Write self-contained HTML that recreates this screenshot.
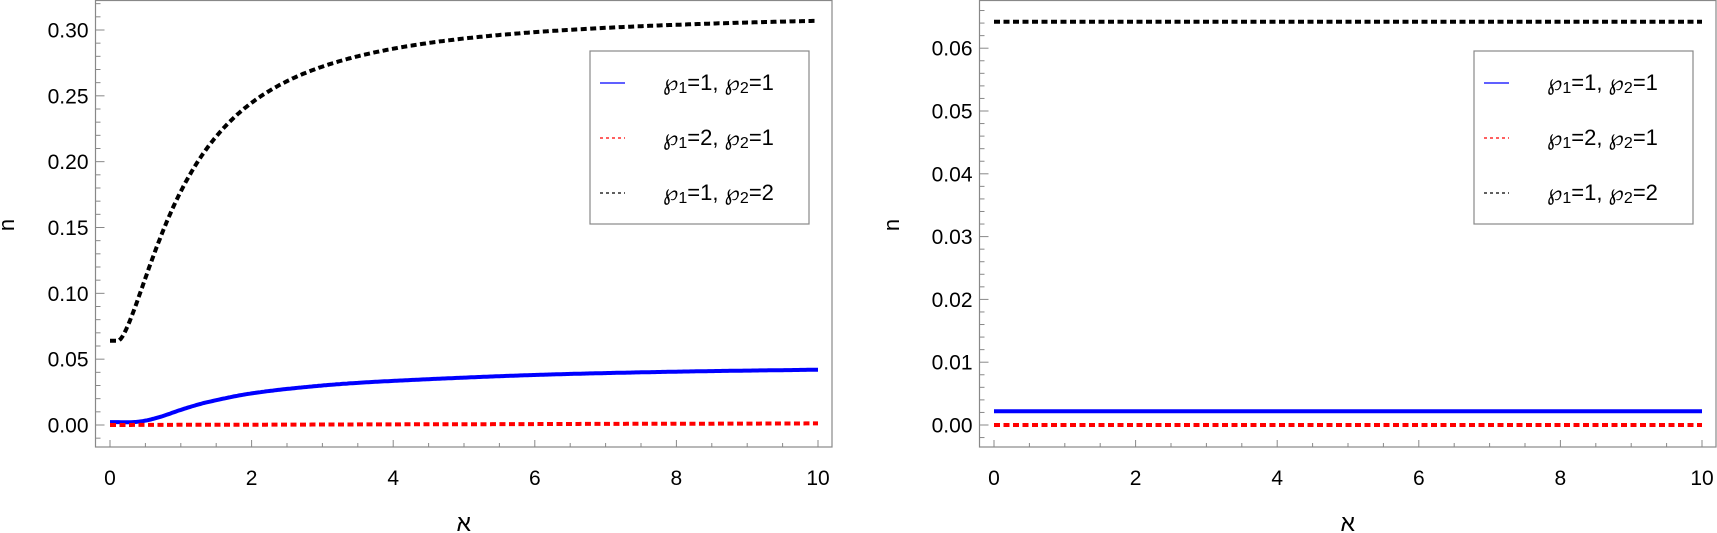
<!DOCTYPE html>
<html><head><meta charset="utf-8"><style>
html,body{margin:0;padding:0;background:#fff;}
svg{display:block;font-family:"Liberation Sans",sans-serif;}
</style></head><body>
<svg id="s" width="1717" height="533" viewBox="0 0 1717 533" xmlns="http://www.w3.org/2000/svg"></svg>
<script>
const S=document.getElementById('s');
let h='';
function interp(pts,x){for(let i=0;i<pts.length-1;i++){const a=pts[i],b=pts[i+1];if(x<=b[0]){
 const m0=i>0?(b[1]-pts[i-1][1])/(b[0]-pts[i-1][0]):(b[1]-a[1])/(b[0]-a[0]);
 const c=pts[i+2]||b;const m1=i+2<pts.length?(c[1]-a[1])/(c[0]-a[0]):(b[1]-a[1])/(b[0]-a[0]);
 const dx=b[0]-a[0],t=(x-a[0])/dx,t2=t*t,t3=t2*t;
 return (2*t3-3*t2+1)*a[1]+(t3-2*t2+t)*dx*m0+(-2*t3+3*t2)*b[1]+(t3-t2)*dx*m1;}}return pts[pts.length-1][1];}
function blackF(x){const u=Math.max(0,x-0.12),q=Math.pow(u,1.5);return 0.064+0.2435*1.03*q/(1+q);}
function panel(o){
 const {L,R,x0,x10,y0,sc,yt,ymin,ymax,dec,lab,leg}=o;
 const X=v=>x0+(x10-x0)*v/10, Y=v=>y0-v*sc;
 h+=`<rect x="${L}" y="0.5" width="${R-L}" height="${446.5}" fill="none" stroke="#888" stroke-width="1.2"/>`;
 for(let k=Math.round(ymin/yt[1]);k*yt[1]<=ymax+1e-9;k++){
  const v=k*yt[1],y=Y(v),maj=Math.abs(v/yt[0]-Math.round(v/yt[0]))<1e-6;
  if(y<1||y>446)continue;
  h+=`<line x1="${L}" x2="${L+(maj?9:5)}" y1="${y}" y2="${y}" stroke="#888" stroke-width="1"/>`;
  if(maj)h+=`<text x="${L-7}" y="${y+7.5}" font-size="21" text-anchor="end">${v.toFixed(dec)}</text>`;
 }
 for(let k=0;k<=20;k++){const v=k*0.5,x=X(v),maj=k%4==0;
  h+=`<line x1="${x}" x2="${x}" y1="447" y2="${447-(maj?7:4)}" stroke="#888" stroke-width="1"/>`;
  if(maj)h+=`<text x="${x}" y="485" font-size="21" text-anchor="middle">${v}</text>`;}
 h+=`<text x="${(L+R)/2}" y="531" font-size="23" text-anchor="middle">א</text>`;
 h+=`<text transform="translate(${lab},225) rotate(-90)" font-size="22" text-anchor="middle">n</text>`;
 o.series.forEach(s=>{let d='';for(let i=0;i<=400;i++){const v=i/40;const val=s.f?s.f(v):interp(s.p,v);d+=(i?'L':'M')+X(v).toFixed(1)+' '+Y(val).toFixed(1);}
  h+=`<path d="${d}" fill="none" stroke="${s.c}" stroke-width="4" ${s.dash?'stroke-dasharray="6 3.5"':''}/>`;});
 h+=`<rect x="${leg}" y="51" width="${o.lw}" height="${173}" fill="#fff" stroke="#888" stroke-width="1.2"/>`;
 const labels=[['#00f','','1','1'],['#f00','3 3','2','1'],['#000','3 3','1','2']];
 labels.forEach((l,i)=>{const y=83+i*55;
  h+=`<line x1="${leg+10}" x2="${leg+35}" y1="${y}" y2="${y}" stroke="${l[0]}" stroke-width="1.2" ${l[1]?'stroke-dasharray="'+l[1]+'"':''}/>`;
  h+=`<text x="${leg+73}" y="${y+7}" font-size="22">℘<tspan font-size="16" dy="3">1</tspan><tspan dy="-3">=${l[2]}, ℘</tspan><tspan font-size="16" dy="3">2</tspan><tspan dy="-3">=${l[3]}</tspan></text>`;});
}
panel({L:95.5,R:832,x0:110,x10:818,y0:425,sc:1316.7,yt:[0.05,0.01],ymin:-0.02,ymax:0.33,dec:2,lab:14,leg:590,lw:219,
 series:[
 {c:'#00f',p:[[0,0.0022],[0.4,0.0025],[0.7,0.006],[1,0.0115],[1.35,0.017],[2,0.024],[3,0.030],[4,0.0335],[6,0.038],[8,0.0405],[10,0.042]]},
 {c:'#f00',dash:1,p:[[0,0],[5,0.0006],[10,0.0012]]},
 {c:'#000',dash:1,f:blackF}]});
panel({L:979.5,R:1716,x0:994,x10:1702,y0:425,sc:6280,yt:[0.01,0.002],ymin:-0.004,ymax:0.068,dec:2,lab:899,leg:1474,lw:219,
 series:[
 {c:'#00f',p:[[0,0.0022],[10,0.0022]]},
 {c:'#f00',dash:1,p:[[0,0],[10,0]]},
 {c:'#000',dash:1,p:[[0,0.0642],[10,0.0642]]}]});
S.innerHTML=h;
</script>
</body></html>
